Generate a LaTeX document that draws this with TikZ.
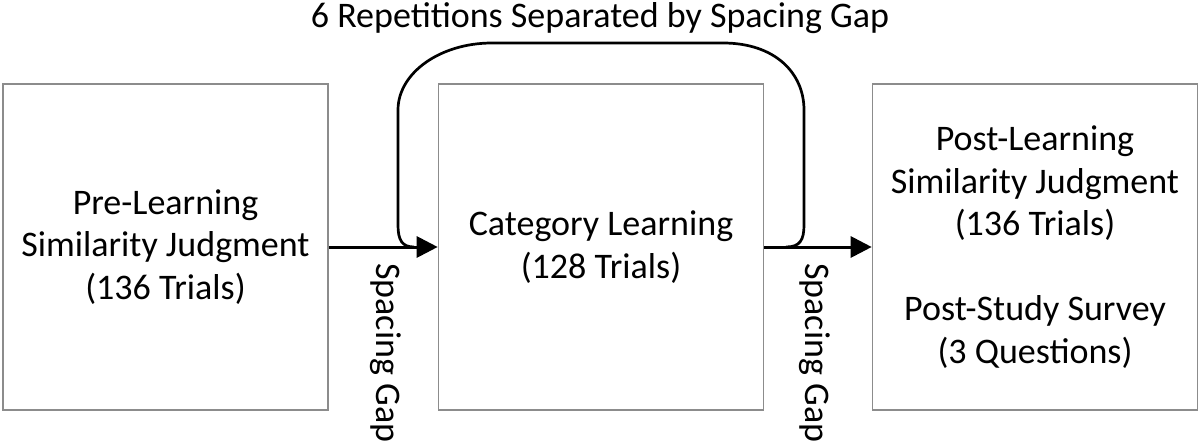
\documentclass[tikz,border=0pt]{standalone}
\usepackage{fontspec}
\setmainfont{Carlito}
\usetikzlibrary{arrows.meta}
\begin{document}
\begin{tikzpicture}[x=1pt,y=-1pt,
  stagebox/.style={draw=black!45,line width=1.6pt,minimum width=325pt,minimum height=326pt,
    inner sep=0pt,align=center,font=\fontsize{36}{42.5}\selectfont},
  flow/.style={line width=3pt,-{Triangle[length=21pt,width=21pt]}},
  loopline/.style={line width=2.7pt},
  lbl/.style={font=\fontsize{36}{42.5}\selectfont,inner sep=0pt}]
\useasboundingbox (0,0) rectangle (1200,444);
\fill[white] (0,0) rectangle (1200,444);
\node[stagebox] (pre) at (165.5,247) {Pre-Learning\\Similarity Judgment\\(136 Trials)};
\node[stagebox] (cat) at (601,247) {Category Learning\\(128 Trials)};
\node[stagebox] (post) at (1035,247) {Post-Learning\\Similarity Judgment\\(136 Trials)\\[42.5pt]Post-Study Survey\\(3 Questions)};
\draw[flow] (pre.east) -- (cat.west);
\draw[flow] (cat.east) -- (post.west);
\coordinate (loopstart) at (786,247);
\coordinate (loopend) at (414,247);
\draw[loopline] (loopstart) .. controls (800,247) and (804,240) .. (804,225)
  -- (804,110) .. controls (804,73) and (775,43) .. (723,43)
  -- (492,43) .. controls (440,43) and (398,73) .. (398,110)
  -- (398,225) .. controls (398,240) and (402,247) .. (loopend);
\node[lbl,anchor=base] (title) at (600,28) {6 Repetitions Separated by Spacing Gap};
\node[lbl,anchor=base west,rotate=-90] (gap1) at (376,263) {Spacing Gap};
\node[lbl,anchor=base west,rotate=-90] (gap2) at (805,263) {Spacing Gap};
\end{tikzpicture}
\end{document}
